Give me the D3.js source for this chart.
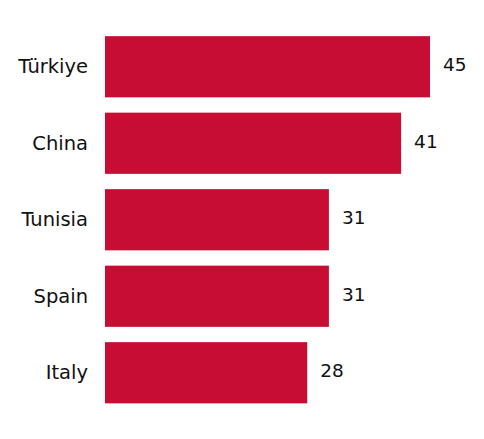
<!DOCTYPE html>
<html><head><meta charset="utf-8">
<script src="https://cdn.jsdelivr.net/npm/d3@7"></script>
<style>body{margin:0;background:#fff}svg{display:block}</style>
</head><body>
<svg id="c" width="484" height="439"></svg>
<script>
const categories = ["Türkiye", "China", "Tunisia", "Spain", "Italy"];
const values = [45, 41, 31, 31, 28];

const svg = d3.select("#c");
const x = d3.scaleLinear().domain([0, 45]).range([105, 430]);
const y = d3.scaleBand().domain(categories).range([28.5, 411]).paddingInner(0.2).paddingOuter(0.1);
const font = "DejaVu Sans, sans-serif";

svg.selectAll("rect.bar").data(values).join("rect")
  .attr("class", "bar")
  .attr("x", x(0))
  .attr("y", (d, i) => y(categories[i]))
  .attr("width", d => x(d) - x(0))
  .attr("height", y.bandwidth())
  .attr("fill", "#C80D35");

svg.selectAll("text.val").data(values).join("text")
  .attr("class", "val")
  .attr("x", d => x(d) + 13)
  .attr("y", (d, i) => y(categories[i]) + y.bandwidth() / 2 - 2)
  .attr("dy", "0.35em")
  .attr("font-family", font).attr("font-size", 18.5)
  .attr("fill", "#111")
  .text(d => d);

const yAxis = d3.axisLeft(y).tickSize(0).tickPadding(17);
const g = svg.append("g").attr("transform", `translate(${x(0)},0)`).call(yAxis);
g.select(".domain").remove();
g.selectAll("text").attr("font-family", font).attr("font-size", 19.5).attr("fill", "#111");
</script>
</body></html>
